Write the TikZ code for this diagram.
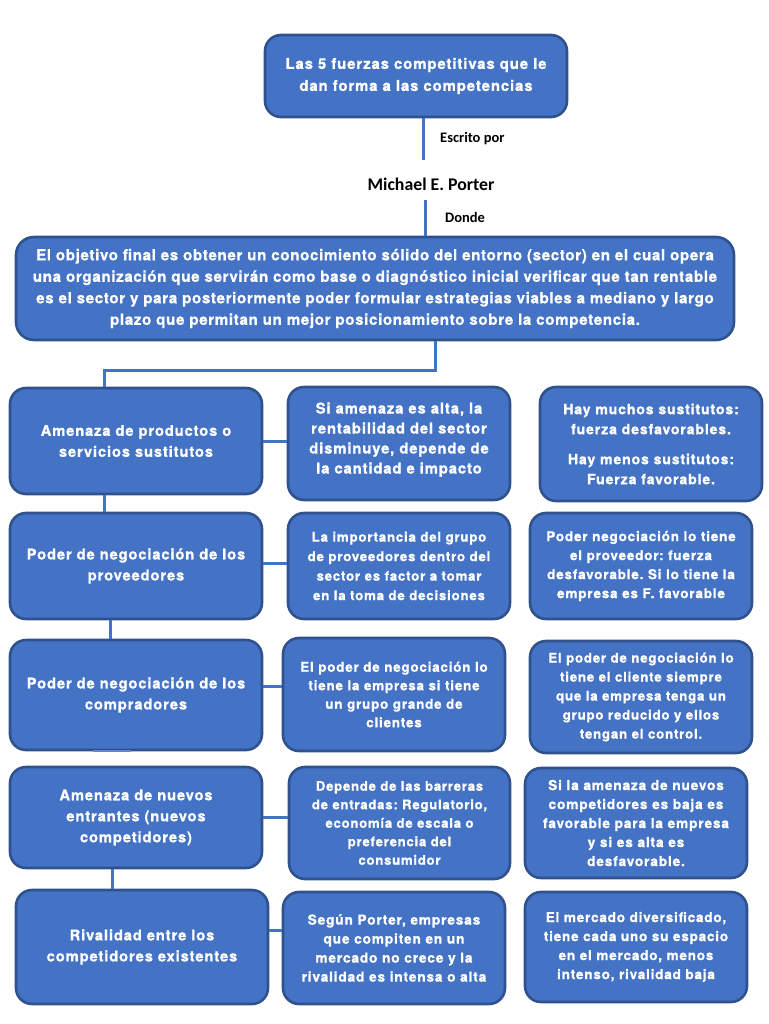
\documentclass[tikz,border=0pt]{standalone}
\usepackage{fontspec}
\setmainfont{TeX Gyre Heros}
\newfontfamily\boxfont[LetterSpace=6, BoldFeatures={FakeBold=1}]{TeX Gyre Heros}
\newfontfamily\objfont[LetterSpace=4, BoldFeatures={FakeBold=0.6}]{TeX Gyre Heros}
\newfontfamily\calfont{Carlito}
\frenchspacing
\definecolor{boxfill}{HTML}{4472C4}
\definecolor{boxborder}{HTML}{2F528F}
\definecolor{connblue}{HTML}{4472C4}
\tikzset{
  tbox/.style={draw=boxborder, line width=2.6pt, fill=boxfill, rounded corners=16pt,
    text=white, align=center, inner sep=0pt},
  bigtxt/.style={font=\frenchspacing\boxfont\bfseries\fontsize{14.7}{21}\selectfont},
  smalltxt/.style={font=\frenchspacing\boxfont\bfseries\fontsize{13.5}{19}\selectfont},
  conn/.style={draw=connblue, line width=3pt},
  lbl/.style={font=\calfont\bfseries\fontsize{14.5}{16}\selectfont, anchor=west, inner sep=0pt},
}
\begin{document}
\begin{tikzpicture}[x=1pt,y=-1pt]
\useasboundingbox (0,0) rectangle (768,1024);
% title
\node[tbox, font=\boxfont\bfseries\fontsize{14.9}{22}\selectfont, minimum width=302pt, minimum height=82pt] (title) at (416,76)
  {Las 5 fuerzas competitivas que le\\dan forma a las competencias};
\node[font=\calfont\bfseries\fontsize{17.8}{20}\selectfont, inner sep=0pt] (porter) at (431,184) {Michael E. Porter};
\node[lbl] (escrito) at (440,139) {Escrito por};
\node[lbl] (donde) at (445,217) {Donde};
\coordinate (t1) at (423,160);
\coordinate (t2) at (425,200);
% objective
\node[tbox, rounded corners=18pt, font=\frenchspacing\objfont\bfseries\fontsize{15.2}{21.5}\selectfont, minimum width=718pt, minimum height=103pt] (obj) at (375,288.5)
  {El objetivo final es obtener un conocimiento sólido del entorno (sector) en el cual opera\\
   una organización que servirán como base o diagnóstico inicial verificar que tan rentable\\
   es el sector y para posteriormente poder formular estrategias viables a mediano y largo\\
   plazo que permitan un mejor posicionamiento sobre la competencia.};
\draw[conn] (title.south -| t1) -- (t1);
\draw[conn] (t2) -- (t2 |- obj.north);
% left column
\node[tbox, bigtxt, minimum width=252pt, minimum height=106pt] (L1) at (136,441)
  {Amenaza de productos o\\servicios sustitutos};
\node[tbox, bigtxt, minimum width=252pt, minimum height=106pt] (L2) at (136,566)
  {Poder de negociación de los\\proveedores};
\node[tbox, bigtxt, minimum width=252pt, minimum height=110pt] (L3) at (136,695)
  {Poder de negociación de los\\compradores};
\node[tbox, bigtxt, minimum width=252pt, minimum height=101pt] (L4) at (136,817.5)
  {Amenaza de nuevos\\entrantes (nuevos\\competidores)};
\node[tbox, bigtxt, minimum width=252pt, minimum height=114pt] (L5) at (142,947)
  {Rivalidad entre los\\competidores existentes};
% middle column
\node[tbox, font=\frenchspacing\boxfont\bfseries\fontsize{14.8}{20}\selectfont, minimum width=222pt, minimum height=113pt] (M1) at (399,443.5)
  {\raisebox{4pt}[\height][\depth]{\begin{tabular}{@{}c@{}}Si amenaza es alta, la\\rentabilidad del sector\\disminuye, depende de\\la cantidad e impacto\end{tabular}}};
\node[tbox, font=\frenchspacing\boxfont\bfseries\fontsize{13.25}{19.5}\selectfont, minimum width=222pt, minimum height=106pt] (M2) at (399,566)
  {La importancia del grupo\\de proveedores dentro del\\sector es factor a tomar\\en la toma de decisiones};
\node[tbox, font=\frenchspacing\boxfont\bfseries\fontsize{13.4}{18.5}\selectfont, minimum width=222pt, minimum height=113pt] (M3) at (394,694.5)
  {El poder de negociación lo\\tiene la empresa si tiene\\un grupo grande de\\clientes};
\node[tbox, font=\frenchspacing\boxfont\bfseries\fontsize{13.1}{18.5}\selectfont, minimum width=221pt, minimum height=112pt] (M4) at (399.5,823)
  {Depende de las barreras\\de entradas: Regulatorio,\\economía de escala o\\preferencia del\\consumidor};
\node[tbox, font=\frenchspacing\boxfont\bfseries\fontsize{13.7}{19}\selectfont, minimum width=222pt, minimum height=112pt] (M5) at (394,948)
  {Según Porter, empresas\\que compiten en un\\mercado no crece y la\\rivalidad es intensa o alta};
% right column
\node[tbox, font=\frenchspacing\boxfont\bfseries\fontsize{14.1}{20}\selectfont, minimum width=222pt, minimum height=114pt] (R1) at (651,444)
  {Hay muchos sustitutos:\\fuerza desfavorables.\\[10pt]Hay menos sustitutos:\\Fuerza favorable.};
\node[tbox, smalltxt, minimum width=222pt, minimum height=106pt] (R2) at (641,566)
  {Poder negociación lo tiene\\el proveedor: fuerza\\desfavorable. Si lo tiene la\\empresa es F. favorable};
\node[tbox, font=\frenchspacing\boxfont\bfseries\fontsize{13.25}{19}\selectfont, minimum width=222pt, minimum height=112pt] (R3) at (641,697)
  {El poder de negociación lo\\tiene el cliente siempre\\que la empresa tenga un\\grupo reducido y ellos\\tengan el control.};
\node[tbox, font=\frenchspacing\boxfont\bfseries\fontsize{13.7}{19}\selectfont, minimum width=222pt, minimum height=110pt] (R4) at (636,823)
  {Si la amenaza de nuevos\\competidores es baja es\\favorable para la empresa\\y si es alta es\\desfavorable.};
\node[tbox, smalltxt, minimum width=222pt, minimum height=110pt] (R5) at (636,947)
  {El mercado diversificado,\\tiene cada uno su espacio\\en el mercado, menos\\intenso, rivalidad baja};
% connectors
\coordinate (j1) at (435,370);
\coordinate (j2) at (104,370);
\draw[conn] (obj.south -| j1) -- (j1) -- (j2) -- (j2 |- L1.north);
\draw[conn] (L1.south -| j2) -- (L2.north -| j2);
\draw[conn] ([xshift=-26pt]L2.south) -- ([xshift=-26pt]L2.south |- L3.north);
\draw[draw=connblue!85, line width=2pt] ([xshift=-43pt]L3.south) -- ([xshift=-5pt]L3.south);
\draw[conn] ([xshift=-24pt]L4.south) -- ([xshift=-24pt]L4.south |- L5.north);
\draw[conn] (L1.east) -- (L1.east -| M1.west);
\draw[conn] ([yshift=3pt]L2.east) -- ([yshift=3pt]L2.east -| M2.west);
\draw[conn] ([yshift=9pt]L3.east) -- ([yshift=9pt]L3.east -| M3.west);
\draw[conn] (L4.east) -- (L4.east -| M4.west);
\draw[conn] ([yshift=17pt]L5.east) -- ([yshift=17pt]L5.east -| M5.west);
\end{tikzpicture}
\end{document}
